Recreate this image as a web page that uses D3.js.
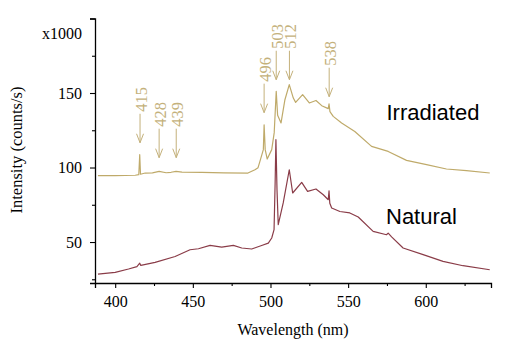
<!DOCTYPE html>
<html>
<head>
<meta charset="utf-8">
<script src="https://cdn.jsdelivr.net/npm/d3@7"></script>
<style>
    body{margin:0;background:#fff;}
    .tick_text{font-family:"Liberation Serif","Times New Roman",serif;font-size:16px;fill:#000;}
    .series_label{font-family:"Liberation Sans",Arial,sans-serif;font-size:22px;fill:#000;}
</style>
</head>
<body>
<div class="chart"></div>
<script>
// wavelength (nm) / intensity (x1000 counts/s)
var irrWave = [388.9,400,412.9,415.2,415.8,416.3,419.3,424,428.3,432.8,436,439.2,443,455.8,470,485.5,490,492,493.2,495.4,495.9,496.6,497.9,500.8,502.4,503.7,504.6,506.8,509.3,512.1,514.7,516.2,520.7,525,529.3,533,537.2,537.7,538.3,540.4,545.8,554.3,565.1,575.8,587.6,600.5,613.3,626.2,641.2];
var irrInt  = [94.5,94.6,94.8,95.2,108.6,95.5,96.3,96.4,97.4,96.5,96.8,97.4,96.9,96.8,96.4,96.3,98.5,99.9,104.1,112,128.7,112,105.7,112,123.4,151.1,135,129.9,145.5,155.6,146.6,143.7,148.9,143.3,145,141.5,139.5,142.8,137.5,134.3,129.9,124.2,114.2,110.8,104.8,101.9,99,97.9,96.3];

var natWave = [388.9,400,408.6,414,415.8,416.5,425.7,438.6,448.2,453.6,461.1,468.6,476.1,481.5,487.9,494.3,498.6,500.8,502.3,503,503.5,504.2,505,508.2,512.1,514.3,520.1,523.9,529.3,534,537.2,537.7,538.2,539.4,544.7,551.1,556.5,566.1,574.7,575.8,578,585.4,598.3,611.1,624,641.2];
var natInt  = [28.5,29.6,31.9,33.5,35.8,34.3,36.3,40.3,44.8,45.5,47.7,46.6,47.7,46,45.3,47.7,49.3,52.7,58.3,90,118.7,85,61.6,76.2,98.5,82.9,90,84,85.6,81.7,78.4,84.4,76,72.8,70.5,69.5,66.8,57.1,54.9,56,53.5,46,41.5,37,34.1,31.4];

// peak annotations on the irradiated curve
var peakLabels = ["415","428","439","496","503","512","538"];
var peakWave   = [416,428.3,439.3,495.9,503.7,512.2,537.8];
var peakTip    = [116.6,106.6,106.6,136.8,158.9,158.9,147.5];

var xMajor = [400,450,500,550,600];
var xMinor = [425,475,525,575,625];
var yMajor = [50,100,150];
var yMinor = [25,75,125,175];

var W = 508, H = 346;
var svg = d3.select("div.chart")
    .append("svg")
    .attr("width",W)
    .attr("height",H);

var x = d3.scaleLinear().domain([387,642]).range([95,491]);
var y = d3.scaleLinear().domain([22.5,200]).range([283,18.5]);

// axes
var xAxis = svg.append("g")
    .attr("transform","translate(0,283)")
    .call(d3.axisBottom(x).tickValues(xMajor).tickSize(5).tickPadding(5).tickFormat(d3.format("d")));
svg.append("g")
    .attr("transform","translate(0,283)")
    .call(d3.axisBottom(x).tickValues(xMinor).tickSize(3).tickFormat(""))
    .select(".domain").remove();

var yAxis = svg.append("g")
    .attr("transform","translate(95,0)")
    .call(d3.axisLeft(y).tickValues(yMajor).tickSize(5).tickPadding(8).tickFormat(d3.format("d")));
svg.append("g")
    .attr("transform","translate(95,0)")
    .call(d3.axisLeft(y).tickValues(yMinor).tickSize(3).tickFormat(""))
    .select(".domain").remove();
svg.append("g")
    .attr("transform","translate(95,0)")
    .call(d3.axisLeft(y).tickValues([200]).tickSize(5).tickFormat(""))
    .select(".domain").remove();

svg.selectAll(".domain")
    .attr("stroke","#000")
    .attr("stroke-width",1.3);
svg.selectAll(".tick line")
    .attr("stroke","#000")
    .attr("stroke-width",1.1);
svg.selectAll(".tick text")
    .attr("class","tick_text")
    .attr("font-family",null)
    .attr("font-size",null);
xAxis.selectAll(".tick text").attr("dy","0.85em");

svg.append("text")
    .attr("class","tick_text")
    .attr("x",82)
    .attr("y",38.5)
    .attr("text-anchor","end")
    .text("x1000");

svg.append("text")
    .attr("class","tick_text")
    .attr("x",293)
    .attr("y",335)
    .attr("text-anchor","middle")
    .text("Wavelength (nm)");

svg.append("text")
    .attr("class","tick_text")
    .attr("transform","translate(22,150) rotate(-90)")
    .attr("text-anchor","middle")
    .style("font-size","16.5px")
    .text("Intensity (counts/s)");

// spectra
function toPoints(wave,inten){
    return wave.map(function(d,i){return [d,inten[i]];});
}
var line = d3.line()
    .x(function(d){return x(d[0]);})
    .y(function(d){return y(d[1]);});

svg.append("path")
    .datum(toPoints(natWave,natInt))
    .attr("d",line)
    .attr("fill","none")
    .attr("stroke","#8a3c48")
    .attr("stroke-width",1.2)
    .attr("stroke-linejoin","round");

svg.append("path")
    .datum(toPoints(irrWave,irrInt))
    .attr("d",line)
    .attr("fill","none")
    .attr("stroke","#bfaa6a")
    .attr("stroke-width",1.2)
    .attr("stroke-linejoin","round");

// arrows + peak labels
var annColor = "#c4b17b";
var arrowLen = 29;
var ann = svg.selectAll("g.peak")
    .data(peakLabels)
    .enter()
    .append("g")
    .attr("class","peak")
    .attr("transform",function(d,i){return "translate("+x(peakWave[i])+","+y(peakTip[i])+")";});
ann.append("line")
    .attr("x1",0).attr("x2",0)
    .attr("y1",-arrowLen).attr("y2",0)
    .attr("stroke",annColor)
    .attr("stroke-width",1);
ann.append("path")
    .attr("d","M-3.5,-9L0,0L3.5,-9")
    .attr("fill","none")
    .attr("stroke",annColor)
    .attr("stroke-width",1);
ann.append("text")
    .attr("transform","translate(1,"+(-arrowLen-2)+") rotate(-90)")
    .attr("dy","0.36em")
    .attr("text-anchor","start")
    .style("font-family","'Liberation Serif','Times New Roman',serif")
    .style("font-size","16.5px")
    .attr("fill",annColor)
    .text(function(d){return d;});

svg.append("text")
    .attr("class","series_label")
    .attr("x",386.5)
    .attr("y",119.5)
    .text("Irradiated");
svg.append("text")
    .attr("class","series_label")
    .attr("x",386)
    .attr("y",223.5)
    .text("Natural");
</script>
</body>
</html>
